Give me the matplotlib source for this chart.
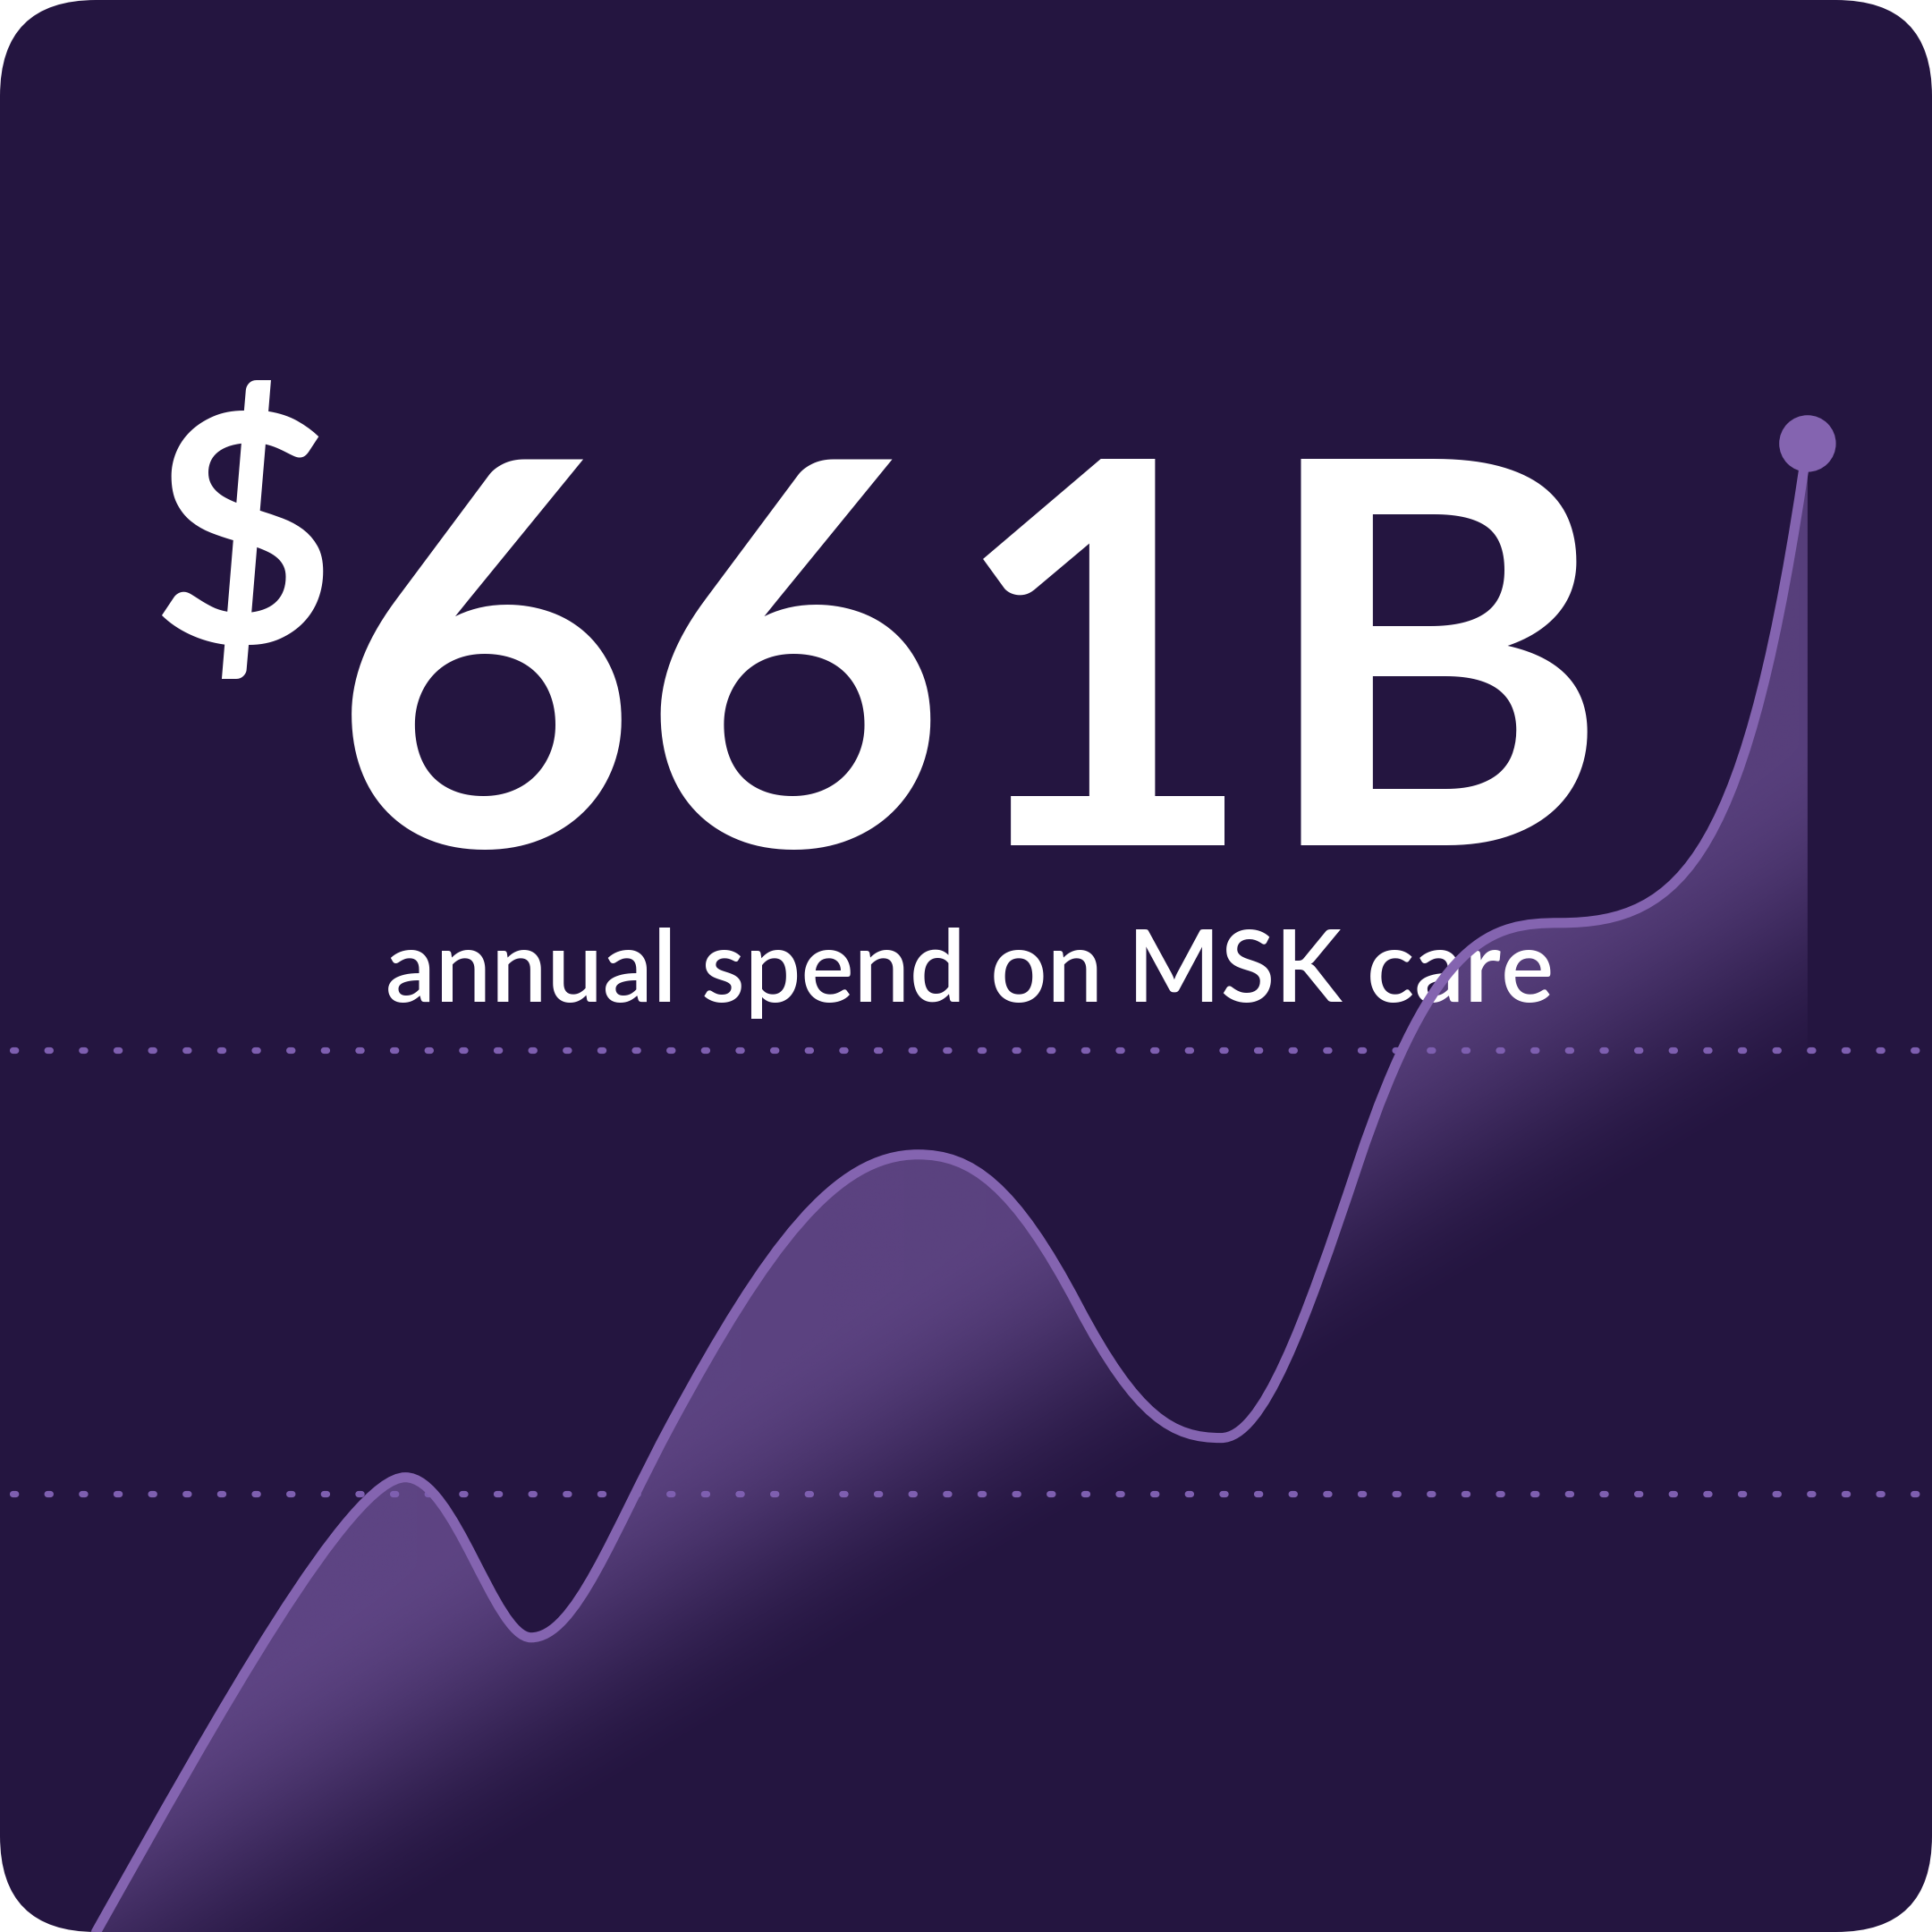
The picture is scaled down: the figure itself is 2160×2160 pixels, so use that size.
import numpy as np
import matplotlib
matplotlib.use("Agg")
import matplotlib.pyplot as plt
from matplotlib.patches import FancyBboxPatch, PathPatch, Circle
from matplotlib.path import Path

# Canvas in picture pixels (square), y grows downward
SIZE = 1568

# Curve anchors (peaks, dips and the turning points between)
anchor_x = [78, 329, 431, 545, 745, 875, 991, 1102, 1266, 1467]
anchor_y = [1568, 1199, 1329, 1155, 937, 1060, 1167, 945, 749, 360]
# Bezier handles (offsets from each anchor)
handle_in = [(0, 0), (-45, 0), (-30, 0), (-48, 89), (-67, 0), (-52, -99),
             (-39, 0), (-44, 132), (-55, 0), (-48, 336)]
handle_out = [(100, -178), (40, 0), (36, 0), (78, -144), (43, 0), (48, 91),
              (34, 0), (62, -186), (100, 0), (0, 0)]

grid_rows = [852, 1212]

value_label = "661B"
currency = "$"
subtitle = "annual spend on MSK care"

BG = "#241540"
LINE = "#8464b0"
DOTS = "#7e5fb0"


def curve_path():
    verts = [(anchor_x[0], anchor_y[0])]
    codes = [Path.MOVETO]
    for i in range(len(anchor_x) - 1):
        x0, y0 = anchor_x[i], anchor_y[i]
        x1, y1 = anchor_x[i + 1], anchor_y[i + 1]
        verts += [(x0 + handle_out[i][0], y0 + handle_out[i][1]),
                  (x1 + handle_in[i + 1][0], y1 + handle_in[i + 1][1]),
                  (x1, y1)]
        codes += [Path.CURVE4] * 3
    return verts, codes


fig = plt.figure(figsize=(10.8, 10.8), dpi=200, facecolor="white")
ax = fig.add_axes([0, 0, 1, 1])
ax.set_xlim(0, SIZE)
ax.set_ylim(SIZE, 0)
ax.axis("off")

card = FancyBboxPatch((0, 0), SIZE, SIZE, boxstyle="round,pad=0,rounding_size=78",
                      facecolor=BG, edgecolor="none", zorder=0)
ax.add_patch(card)

# gradient fill under the curve
verts, codes = curve_path()
fill_verts = verts + [(anchor_x[-1], SIZE), (anchor_x[0], SIZE), verts[0]]
fill_codes = codes + [Path.LINETO, Path.LINETO, Path.CLOSEPOLY]
fill_patch = PathPatch(Path(fill_verts, fill_codes), facecolor="none", edgecolor="none")
ax.add_patch(fill_patch)

n = 500
gx, gy = np.meshgrid(np.linspace(0, SIZE, n), np.linspace(0, SIZE, n))
d = 0.51 * gx + 0.86 * gy
s = np.clip((1515 - d) / 250, 0, 1)
alpha = 0.62 * s * s * (3 - 2 * s) * (1 - 0.15 * gx / SIZE)
rgba = np.zeros((n, n, 4))
rgba[..., :3] = matplotlib.colors.to_rgb(LINE)
rgba[..., 3] = alpha
img = ax.imshow(rgba, extent=(0, SIZE, SIZE, 0), origin="upper", zorder=1,
                interpolation="bilinear")
img.set_clip_path(fill_patch)

# dotted guide rows
for y in grid_rows:
    ax.plot([10, 1556], [y, y], color=DOTS, lw=2.6,
            linestyle=(0, (0.45, 4.9)), dash_capstyle="round", zorder=2)

# headline
ax.text(787, 686, value_label, color="white", fontsize=215, fontfamily="Lato",
        fontweight="bold", ha="center", va="baseline", zorder=3)
ax.text(272, 522, currency, color="white", fontsize=128, fontfamily="Lato",
        fontweight="bold", ha="right", va="baseline", zorder=3)
ax.text(787, 813, subtitle, color="white", fontsize=40, fontfamily="Lato",
        fontweight="semibold", ha="center", va="baseline", zorder=3)

# curve line and end marker
line = PathPatch(Path(verts, codes), facecolor="none", edgecolor=LINE, lw=4.0,
                 capstyle="round", zorder=4)
ax.add_patch(line)
line.set_clip_path(card)
ax.add_patch(Circle((anchor_x[-1], anchor_y[-1]), 22, color=LINE, zorder=5))

fig.savefig("out.png", dpi=200, facecolor="white")
